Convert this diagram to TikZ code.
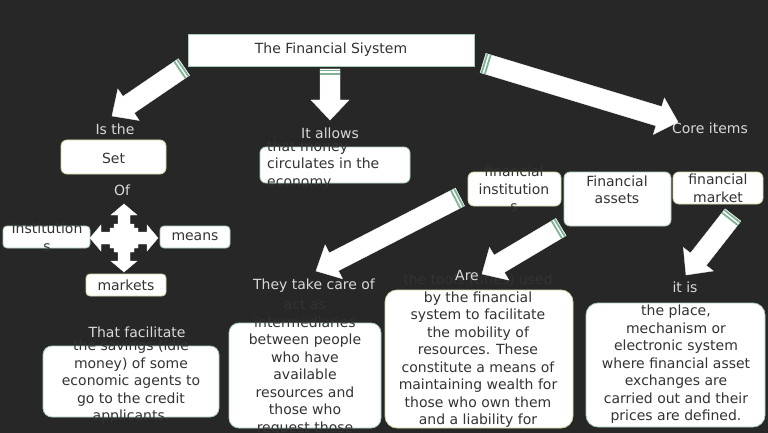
\documentclass[tikz,border=0pt]{standalone}
\usepackage{fontspec}
\setmainfont{DejaVu Sans}
\usetikzlibrary{calc}

\definecolor{board}{HTML}{272727}
\definecolor{chalk}{HTML}{D9D9D9}
\definecolor{ink}{HTML}{333333}
\definecolor{mint}{HTML}{A9CDB5}
\definecolor{olive}{HTML}{CFD9A0}
\definecolor{stripe}{HTML}{7FB394}

\newcommand{\blockarrow}[2]{%
	\coordinate (ah) at ($(#2)!20pt!(#1)$);
	\filldraw [arrowbody] ($(#1)!10pt!90:(#2)$) -- ($(ah)!10pt!90:(#2)$) -- ($(ah)!19pt!90:(#2)$) -- (#2)
		-- ($(ah)!19pt!-90:(#2)$) -- ($(ah)!10pt!-90:(#2)$) -- ($(#1)!10pt!-90:(#2)$) -- cycle;
	\coordinate (s1) at ($(#1)!1.5pt!(#2)$);
	\coordinate (s2) at ($(#1)!5pt!(#2)$);
	\draw [stripes] ($(s1)!10pt!90:(#2)$) -- ($(s1)!10pt!-90:(#2)$);
	\draw [stripes] ($(s2)!10pt!90:(#2)$) -- ($(s2)!10pt!-90:(#2)$);
}

\begin{document}
\begin{tikzpicture}[x=1pt,y=-1pt]
	\tikzstyle{box}=[draw=mint,fill=white,line width=0.8pt,rounded corners=6pt,inner sep=0pt]
	\tikzstyle{boxy}=[box,draw=olive]
	\tikzstyle{txt}=[text=ink,align=center,inner sep=0pt,font=\fontsize{14}{17.5}\selectfont]
	\tikzstyle{lbl}=[text=chalk,inner sep=0pt,font=\fontsize{14}{17}\selectfont]
	\tikzstyle{arrowbody}=[fill=white,draw=white!85!mint,line width=0.4pt]
	\tikzstyle{stripes}=[draw=stripe,line width=1.8pt]
	\fill [board] (0,0) rectangle (768,433);
	\useasboundingbox (0,0) rectangle (768,433);
	\node (title) at (331,50) [box,rounded corners=0pt,minimum width=286pt,minimum height=32pt] {};
	\node (setbox) at (113.5,157) [boxy,minimum width=105pt,minimum height=34pt] {};
	\node (allows) at (335,165) [box,minimum width=150pt,minimum height=36pt] {};
	\node (fininst) at (514.5,189) [boxy,minimum width=93pt,minimum height=34pt] {};
	\node (finassets) at (617.5,199) [box,minimum width=107pt,minimum height=54pt] {};
	\node (finmarket) at (718,188) [boxy,minimum width=90pt,minimum height=32pt] {};
	\node (instit) at (46.5,237) [box,minimum width=87pt,minimum height=22pt,rounded corners=4pt] {};
	\node (means) at (195,237) [box,minimum width=70pt,minimum height=22pt,rounded corners=4pt] {};
	\node (markets) at (126,285) [boxy,minimum width=80pt,minimum height=22pt,rounded corners=4pt] {};
	\node (savings) at (131,381.5) [box,minimum width=176pt,minimum height=71pt,rounded corners=9pt] {};
	\node (intermed) at (305,375.5) [box,minimum width=152pt,minimum height=105pt,rounded corners=10pt] {};
	\node (tools) at (479,359) [boxy,minimum width=188pt,minimum height=138pt,rounded corners=12pt] {};
	\node (place) at (675.5,365) [box,minimum width=179pt,minimum height=124pt,rounded corners=12pt] {};
	\node at (331,50) [txt] {The Financial Siystem};
	\node at (113.5,158) [txt] {Set};
	\node at (267,165) [txt,anchor=west,align=left] {that money\\circulates in the\\economy};
	\node at (514,189) [txt] {financial\\institution\\s};
	\node at (617,190) [txt] {Financial\\assets};
	\node at (718,188.5) [txt] {financial\\market};
	\node at (47,237.5) [txt] {Institution\\s};
	\node at (195,237) [txt] {means};
	\node at (126,285) [txt] {markets};
	\node at (131,382) [txt] {the savings (idle\\money) of some\\economic agents to\\go to the credit\\applicants.};
	\node at (305,367.5) [txt] {act as\\intermediaries\\between people\\who have\\available\\resources and\\those who\\request those};
	\node at (478,351) [txt] {the tools (titles) used\\by the financial\\system to facilitate\\the mobility of\\resources. These\\constitute a means of\\maintaining wealth for\\those who own them\\and a liability for};
	\node at (676,364.5) [txt] {the place,\\mechanism or\\electronic system\\where financial asset\\exchanges are\\carried out and their\\prices are defined.};
	\node (isthe) at (115,129) [lbl] {Is the};
	\node (itallows) at (330,133) [lbl] {It allows};
	\node (coreitems) at (710,128) [lbl] {Core items};
	\node (of) at (122,190) [lbl] {Of};
	\node (facilitate) at (137,332) [lbl] {That facilitate};
	\node (takecare) at (314,286) [lbl] {They take care of};
	\node (are) at (467,275) [lbl] {Are};
	\node (itis) at (685,287) [lbl] {it is};
	\coordinate (a1t) at (184,67);
	\coordinate (a1h) at (112,116);
	\coordinate (a2t) at (330,69);
	\coordinate (a2h) at (330,120);
	\coordinate (a3t) at (483,63);
	\coordinate (a3h) at (678,122);
	\coordinate (a4t) at (460,197);
	\coordinate (a4h) at (316,271);
	\coordinate (a5t) at (561,227);
	\coordinate (a5h) at (482,274);
	\coordinate (a6t) at (733,215);
	\coordinate (a6h) at (686,275);
	\blockarrow{a1t}{a1h}
	\blockarrow{a2t}{a2h}
	\blockarrow{a3t}{a3h}
	\blockarrow{a4t}{a4h}
	\blockarrow{a5t}{a5h}
	\blockarrow{a6t}{a6h}
	\filldraw [arrowbody,shift={(124,238)}] (0,-34) -- (13,-23) -- (6,-23) -- (6,-14) -- (10,-14) -- (10,-10) -- (14,-10) -- (14,-6)
		-- (23,-6) -- (23,-13) -- (34,0) -- (23,13) -- (23,6) -- (14,6) -- (14,10) -- (10,10) -- (10,14) -- (6,14)
		-- (6,23) -- (13,23) -- (0,34) -- (-13,23) -- (-6,23) -- (-6,14) -- (-10,14) -- (-10,10) -- (-14,10) -- (-14,6)
		-- (-23,6) -- (-23,13) -- (-34,0) -- (-23,-13) -- (-23,-6) -- (-14,-6) -- (-14,-10) -- (-10,-10) -- (-10,-14) -- (-6,-14)
		-- (-6,-23) -- (-13,-23) -- cycle;
\end{tikzpicture}
\end{document}
